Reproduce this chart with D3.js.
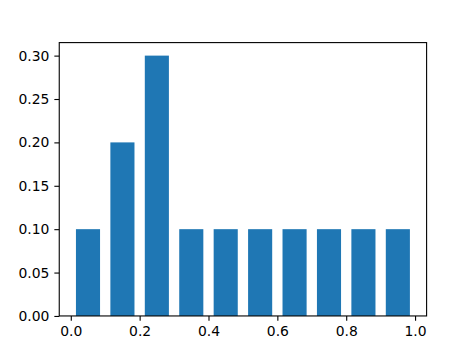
<!DOCTYPE html>
<html><head><meta charset="utf-8">
<script src="https://cdn.jsdelivr.net/npm/d3@7"></script>
<style>body{margin:0;background:#fff}svg{display:block}</style>
</head><body>
<script>
const centers = [0.05,0.15,0.25,0.35,0.45,0.55,0.65,0.75,0.85,0.95];
const values = [0.1,0.2,0.3,0.1,0.1,0.1,0.1,0.1,0.1,0.1];
const barWidth = 0.07;
const xTicks = [0.0,0.2,0.4,0.6,0.8,1.0];
const yTicks = [0.00,0.05,0.10,0.15,0.20,0.25,0.30];

const W=474,H=355;
const L=59.25,R=426.6,T=42.6,B=315.95;
const svg=d3.select("body").append("svg").attr("width",W).attr("height",H);
const x=d3.scaleLinear().domain([-0.0335,1.0335]).range([L,R]);
const y=d3.scaleLinear().domain([0,0.315]).range([B,T]);

svg.append("g").selectAll("rect").data(values).join("rect")
  .attr("x",(d,i)=>x(centers[i]-barWidth/2))
  .attr("width",(d,i)=>x(centers[i]+barWidth/2)-x(centers[i]-barWidth/2))
  .attr("y",d=>y(d)).attr("height",d=>y(0)-y(d))
  .attr("fill","#1f77b4");

const font="DejaVu Sans";
const gx=svg.append("g").attr("transform",`translate(0,${B})`)
  .call(d3.axisBottom(x).tickValues(xTicks).tickFormat(d3.format(".1f")).tickSize(4.9).tickPadding(4.9));
const gy=svg.append("g").attr("transform",`translate(${L},0)`)
  .call(d3.axisLeft(y).tickValues(yTicks).tickFormat(d3.format(".2f")).tickSize(4.9).tickPadding(4.9));
[gx,gy].forEach(g=>{
  g.select(".domain").remove();
  g.selectAll("line").attr("stroke","#000").attr("stroke-width",1.1);
  g.selectAll("text").attr("font-family",font).attr("font-size","13.9px").attr("fill","#000");
});
svg.append("rect").attr("x",L).attr("y",T).attr("width",R-L).attr("height",B-T)
  .attr("fill","none").attr("stroke","#000").attr("stroke-width",1.1);
</script>
</body></html>
